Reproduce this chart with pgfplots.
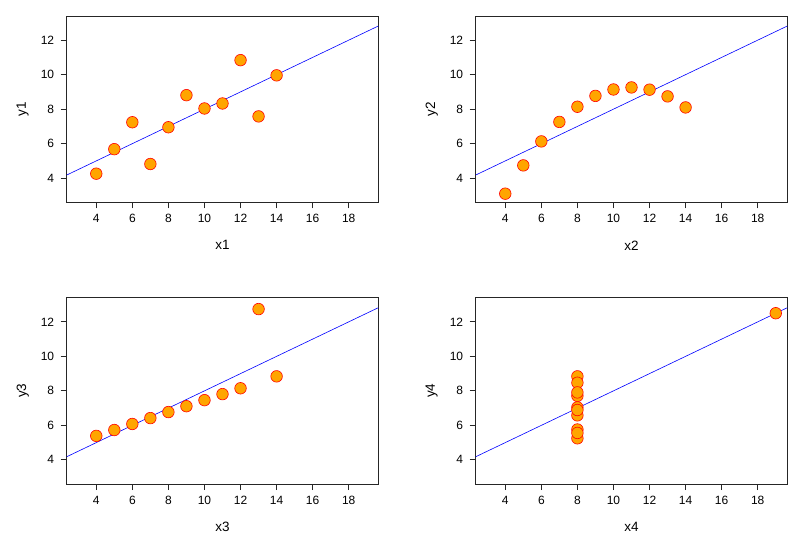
\documentclass[border=0pt]{standalone}
\usepackage{pgfplots}
\pgfplotsset{compat=1.18}
\usepackage{fontspec}
\setmainfont{Liberation Sans}
\definecolor{rorange}{RGB}{255,165,0}
\pgfplotsset{
  anscombe/.style={
    scale only axis, width=311.6pt, height=186.3pt,
    xmin=2.36, xmax=19.64, ymin=2.6, ymax=13.4,
    xtick={4,6,...,18}, ytick={4,6,...,12},
    tick align=outside, major tick length=6pt,
    xtick pos=bottom, ytick pos=left,
    axis line style={black!85, line width=0.8pt},
    every tick/.style={black!85, line width=0.8pt},
    tick label style={font=\fontsize{12}{14}\selectfont},
    /pgf/number format/assume math mode=true,
    xticklabel shift=2.5pt, yticklabel shift=3pt,
    label style={font=\fontsize{13.5}{16}\selectfont},
    xlabel style={at={(axis description cs:0.5,0)}, anchor=center, yshift=-43pt},
    ylabel style={at={(axis description cs:0,0.5)}, anchor=center, yshift=44pt},
    clip=true,
  },
  pts/.style={only marks, mark=*, mark size=5.8pt,
    mark options={fill=rorange, draw=red, line width=0.6pt}},
  reg/.style={blue, line width=0.6pt, no marks},
}
\begin{document}
\begin{tikzpicture}[x=1pt,y=1pt]
\path[use as bounding box] (0,0) rectangle (800,547);
% Panel 1
\begin{axis}[anscombe, at={(66.7pt,344.7pt)}, anchor=south west, xlabel={x1}, ylabel={y1}]
\addplot[reg] coordinates {(2.36,4.18) (19.64,12.82)};
\addplot[pts] coordinates {(10,8.04) (8,6.95) (13,7.58) (9,8.81) (11,8.33) (14,9.96) (6,7.24) (4,4.26) (12,10.84) (7,4.82) (5,5.68)};
\end{axis}
% Panel 2
\begin{axis}[anscombe, at={(475.7pt,344.7pt)}, anchor=south west, xlabel={x2}, ylabel={y2}]
\addplot[reg] coordinates {(2.36,4.18) (19.64,12.82)};
\addplot[pts] coordinates {(10,9.14) (8,8.14) (13,8.74) (9,8.77) (11,9.26) (14,8.10) (6,6.13) (4,3.10) (12,9.13) (7,7.26) (5,4.74)};
\end{axis}
% Panel 3
\begin{axis}[anscombe, at={(66.7pt,63pt)}, anchor=south west, xlabel={x3}, ylabel={y3}]
\addplot[reg] coordinates {(2.36,4.18) (19.64,12.82)};
\addplot[pts] coordinates {(10,7.46) (8,6.77) (13,12.74) (9,7.11) (11,7.81) (14,8.84) (6,6.08) (4,5.39) (12,8.15) (7,6.42) (5,5.73)};
\end{axis}
% Panel 4
\begin{axis}[anscombe, at={(475.7pt,63pt)}, anchor=south west, xlabel={x4}, ylabel={y4}]
\addplot[reg] coordinates {(2.36,4.18) (19.64,12.82)};
\addplot[pts] coordinates {(8,6.58) (8,5.76) (8,7.71) (8,8.84) (8,8.47) (8,7.04) (8,5.25) (19,12.50) (8,5.56) (8,7.91) (8,6.89)};
\end{axis}
\end{tikzpicture}
\end{document}
